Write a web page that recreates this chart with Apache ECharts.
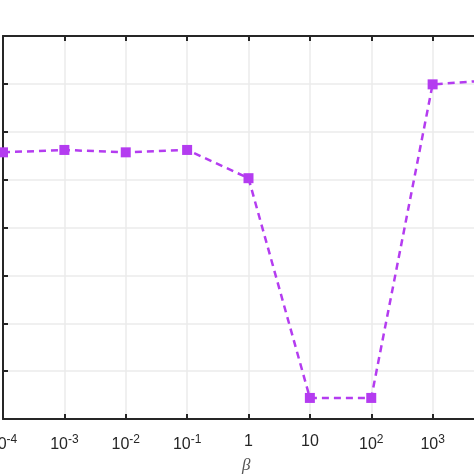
<!DOCTYPE html>
<html><head><meta charset="utf-8">
<script src="https://cdn.jsdelivr.net/npm/echarts@6/dist/echarts.min.js"></script>
<style>html,body{margin:0;padding:0;background:#fff}#c{width:474px;height:474px}</style>
</head><body><div id="c"></div>
<script>
const categories = ['-4','-3','-2','-1','0','1','2','3','4'];
const tickLabels = ['10{s|-4}','10{s|-3}','10{s|-2}','10{s|-1}','1','10','10{s|2}','10{s|3}','10{s|4}'];
const values = [5.57, 5.62, 5.57, 5.62, 5.03, 0.44, 0.44, 6.99, 7.08];
const xName = 'β';

const chart = echarts.init(document.getElementById('c'));
const axisCol = '#262626';
chart.setOption({
  animation: false,
  backgroundColor: '#fff',
  grid: {left: 3, right: -20, top: 36, bottom: 55, containLabel: false, outerBoundsMode: 'none'},
  xAxis: [{
    type: 'category', data: categories, boundaryGap: false, position: 'bottom',
    axisLine: {lineStyle: {color: axisCol, width: 2}},
    axisTick: {inside: true, length: 5, interval: 0, lineStyle: {color: axisCol, width: 2}},
    axisLabel: {margin: 15, interval: 0, color: '#262626', fontFamily: 'Liberation Sans, Arial',
      formatter: (v, i) => tickLabels[i], hideOverlap: false,
      rich: {s: {fontSize: 12, padding: [0,0,10,0]}}, fontSize: 16},
    splitLine: {show: true, interval: 0, lineStyle: {color: '#ebebeb', width: 1.5}}
  }, {
    type: 'category', data: categories, boundaryGap: false, position: 'top',
    axisLine: {lineStyle: {color: axisCol, width: 2}},
    axisTick: {inside: true, length: 5, interval: 0, lineStyle: {color: axisCol, width: 2}},
    axisLabel: {show: false}, splitLine: {show: false}
  }],
  yAxis: [{
    type: 'value', min: 0, max: 8, interval: 1,
    axisLine: {show: true, lineStyle: {color: axisCol, width: 2}},
    axisTick: {show: true, inside: true, length: 5, lineStyle: {color: axisCol, width: 2}},
    axisLabel: {show: false},
    splitLine: {show: true, lineStyle: {color: '#ebebeb', width: 1.5}}
  }],
  graphic: [{type: 'text', left: 242, top: 457,
    style: {text: xName, fontSize: 17, fontStyle: 'italic', fill: '#555', fontFamily: 'Liberation Serif, Times New Roman'}}],
  series: [{
    type: 'line', data: values, xAxisIndex: 0, yAxisIndex: 0,
    symbol: 'rect', symbolSize: 10, clip: false,
    lineStyle: {color: '#b43cf0', width: 2.5, type: [7, 5]},
    itemStyle: {color: '#b43cf0'}
  }]
});
</script></body></html>
